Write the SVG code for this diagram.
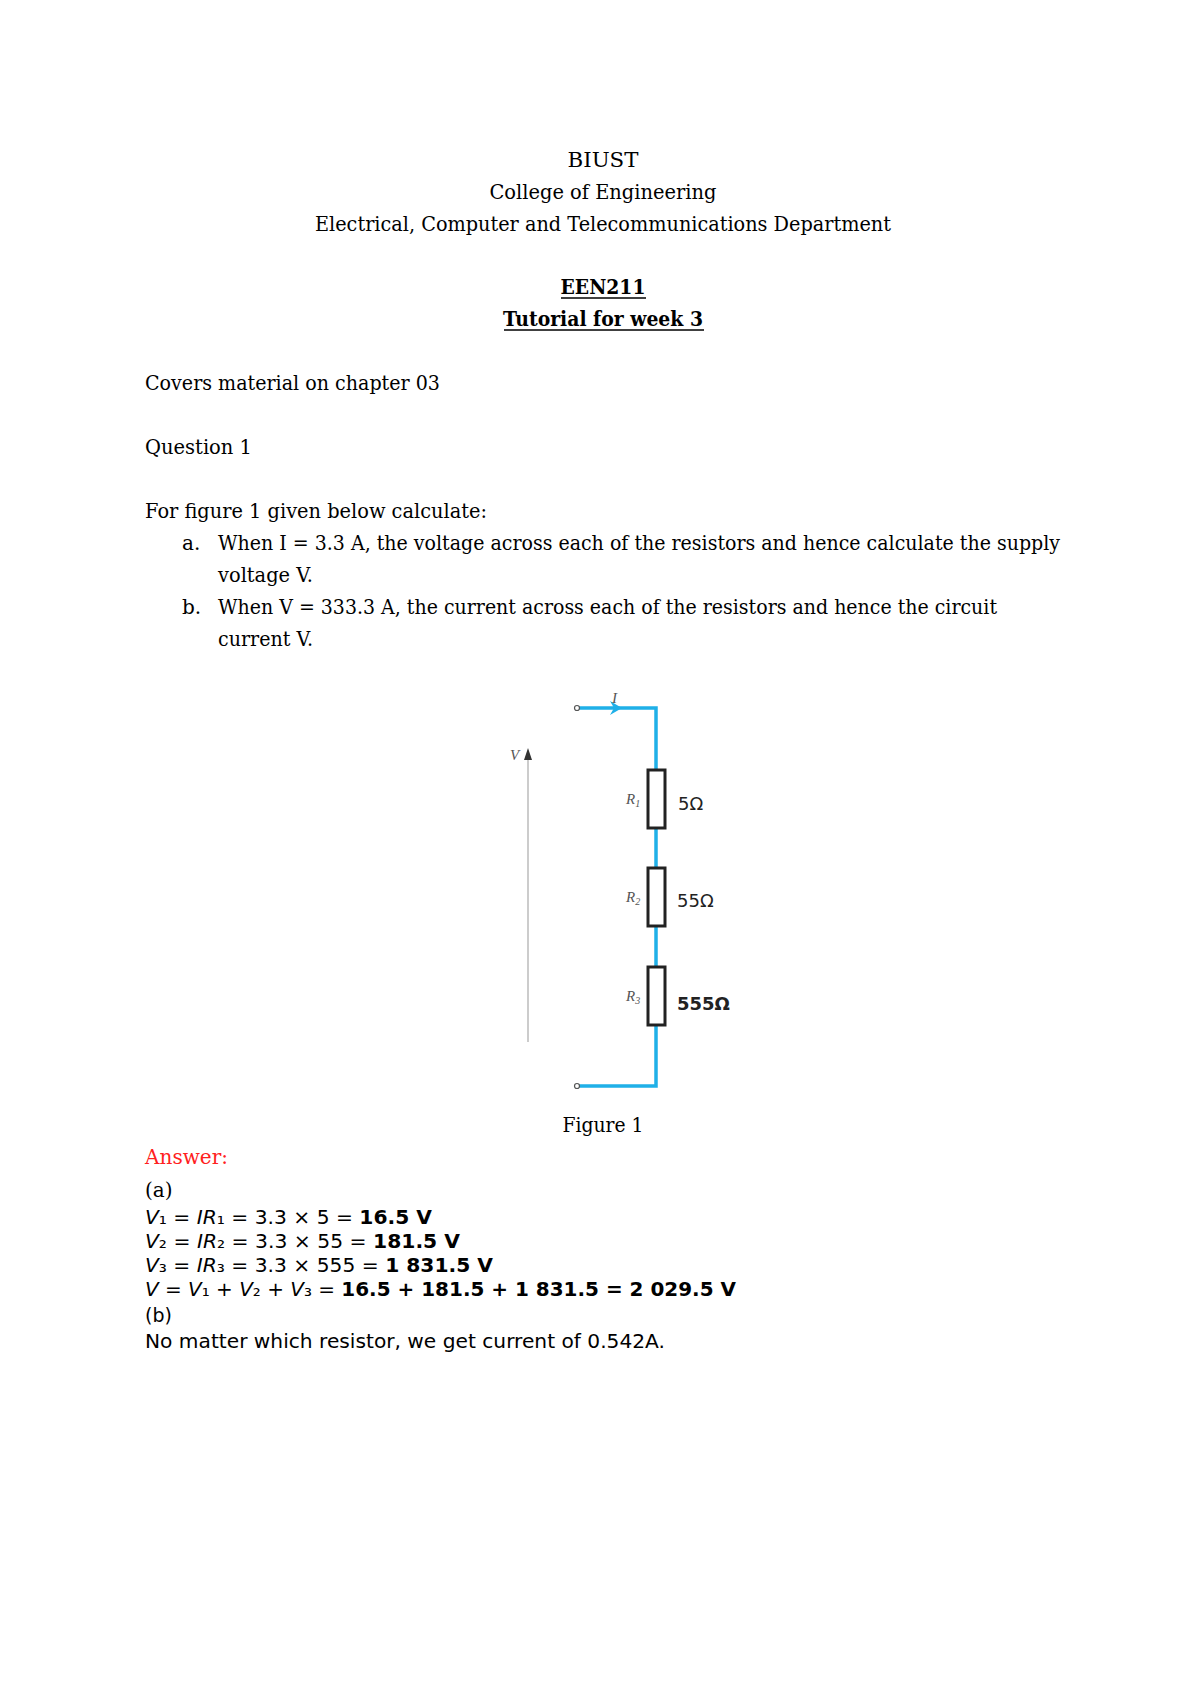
<svg xmlns="http://www.w3.org/2000/svg" width="1200" height="1698" viewBox="0 0 1200 1698">
<style>
.s{font-family:"DejaVu Serif","Liberation Serif",serif;font-size:20px;fill:#000}
.c{text-anchor:middle}
.a{font-family:"DejaVu Sans","Liberation Sans",sans-serif;font-size:19px;fill:#000}
.w{stroke:#1fb0e8;stroke-width:3.5;fill:none}
.r{fill:#fff;stroke:#222;stroke-width:3}
.rl{font-family:"Liberation Serif",serif;font-style:italic;font-size:15px;fill:#555}
.ov{font-family:"DejaVu Sans","Liberation Sans",sans-serif;font-size:18px;fill:#222}
</style>
<rect width="1200" height="1698" fill="#fff"/>
<g id="header">
<text class="s c" x="603" y="167" textLength="71" lengthAdjust="spacingAndGlyphs">BIUST</text>
<text class="s c" x="603" y="199" textLength="227" lengthAdjust="spacingAndGlyphs">College of Engineering</text>
<text class="s c" x="603" y="231" textLength="576" lengthAdjust="spacingAndGlyphs">Electrical, Computer and Telecommunications Department</text>
<text class="s c" x="603" y="294" font-weight="bold" textLength="85" lengthAdjust="spacingAndGlyphs">EEN211</text>
<line x1="561" y1="298" x2="646" y2="298" stroke="#000" stroke-width="1.5"/>
<text class="s c" x="603" y="326" font-weight="bold" textLength="200" lengthAdjust="spacingAndGlyphs">Tutorial for week 3</text>
<line x1="504" y1="330" x2="704" y2="330" stroke="#000" stroke-width="1.5"/>
</g>
<g id="question">
<text class="s" x="145" y="390" textLength="295" lengthAdjust="spacingAndGlyphs">Covers material on chapter 03</text>
<text class="s" x="145" y="454" textLength="107" lengthAdjust="spacingAndGlyphs">Question 1</text>
<text class="s" x="145" y="518" textLength="342" lengthAdjust="spacingAndGlyphs">For figure 1 given below calculate:</text>
<text class="s" x="182" y="550">a.</text>
<text class="s" x="218" y="550" textLength="842" lengthAdjust="spacingAndGlyphs">When I = 3.3 A, the voltage across each of the resistors and hence calculate the supply</text>
<text class="s" x="218" y="582" textLength="95" lengthAdjust="spacingAndGlyphs">voltage V.</text>
<text class="s" x="182" y="614">b.</text>
<text class="s" x="218" y="614" textLength="779" lengthAdjust="spacingAndGlyphs">When V = 333.3 A, the current across each of the resistors and hence the circuit</text>
<text class="s" x="218" y="646" textLength="95" lengthAdjust="spacingAndGlyphs">current V.</text>
</g>
<g id="circuit">
<polyline class="w" points="578,708 656,708 656,1086 578,1086"/>
<circle cx="577" cy="708" r="2.5" fill="#fff" stroke="#555" stroke-width="1.2"/>
<circle cx="577" cy="1086" r="2.5" fill="#fff" stroke="#555" stroke-width="1.2"/>
<path d="M610,701 L622,708 L610,715 L614,708 Z" fill="#1fb0e8"/>
<text class="rl" x="612" y="703">I</text>
<rect class="r" x="648" y="770" width="17" height="58"/>
<rect class="r" x="648" y="868" width="17" height="58"/>
<rect class="r" x="648" y="967" width="17" height="58"/>
<text class="rl" x="626" y="804">R<tspan font-size="10" dy="3">1</tspan></text>
<text class="rl" x="626" y="902">R<tspan font-size="10" dy="3">2</tspan></text>
<text class="rl" x="626" y="1001">R<tspan font-size="10" dy="3">3</tspan></text>
<text class="ov" x="678" y="810">5Ω</text>
<text class="ov" x="677" y="907">55Ω</text>
<text class="ov" x="677" y="1010" font-weight="bold">555Ω</text>
<line x1="528" y1="1042" x2="528" y2="756" stroke="#ccc" stroke-width="2"/>
<path d="M524,760 L528,748 L532,760 Z" fill="#333"/>
<text class="rl" x="510" y="760">V</text>
</g>
<g id="answer">
<text class="s c" x="603" y="1132" textLength="81" lengthAdjust="spacingAndGlyphs">Figure 1</text>
<text class="s" x="145" y="1164" style="fill:#ff2020" textLength="83" lengthAdjust="spacingAndGlyphs">Answer:</text>
<text class="s" x="145" y="1197">(a)</text>
<text class="a" x="145" y="1224" textLength="287" lengthAdjust="spacingAndGlyphs"><tspan font-style="italic">V</tspan>₁ = <tspan font-style="italic">IR</tspan>₁ = 3.3 × 5 = <tspan font-weight="bold">16.5 V</tspan></text>
<text class="a" x="145" y="1248" textLength="315" lengthAdjust="spacingAndGlyphs"><tspan font-style="italic">V</tspan>₂ = <tspan font-style="italic">IR</tspan>₂ = 3.3 × 55 = <tspan font-weight="bold">181.5 V</tspan></text>
<text class="a" x="145" y="1272" textLength="348" lengthAdjust="spacingAndGlyphs"><tspan font-style="italic">V</tspan>₃ = <tspan font-style="italic">IR</tspan>₃ = 3.3 × 555 = <tspan font-weight="bold">1 831.5 V</tspan></text>
<text class="a" x="145" y="1296" textLength="591" lengthAdjust="spacingAndGlyphs"><tspan font-style="italic">V</tspan> = <tspan font-style="italic">V</tspan>₁ + <tspan font-style="italic">V</tspan>₂ + <tspan font-style="italic">V</tspan>₃ = <tspan font-weight="bold">16.5 + 181.5 + 1 831.5 = 2 029.5 V</tspan></text>
<text class="a" x="145" y="1322">(b)</text>
<text class="a" x="145" y="1348" textLength="520" lengthAdjust="spacingAndGlyphs">No matter which resistor, we get current of 0.542A.</text>
</g>
</svg>
